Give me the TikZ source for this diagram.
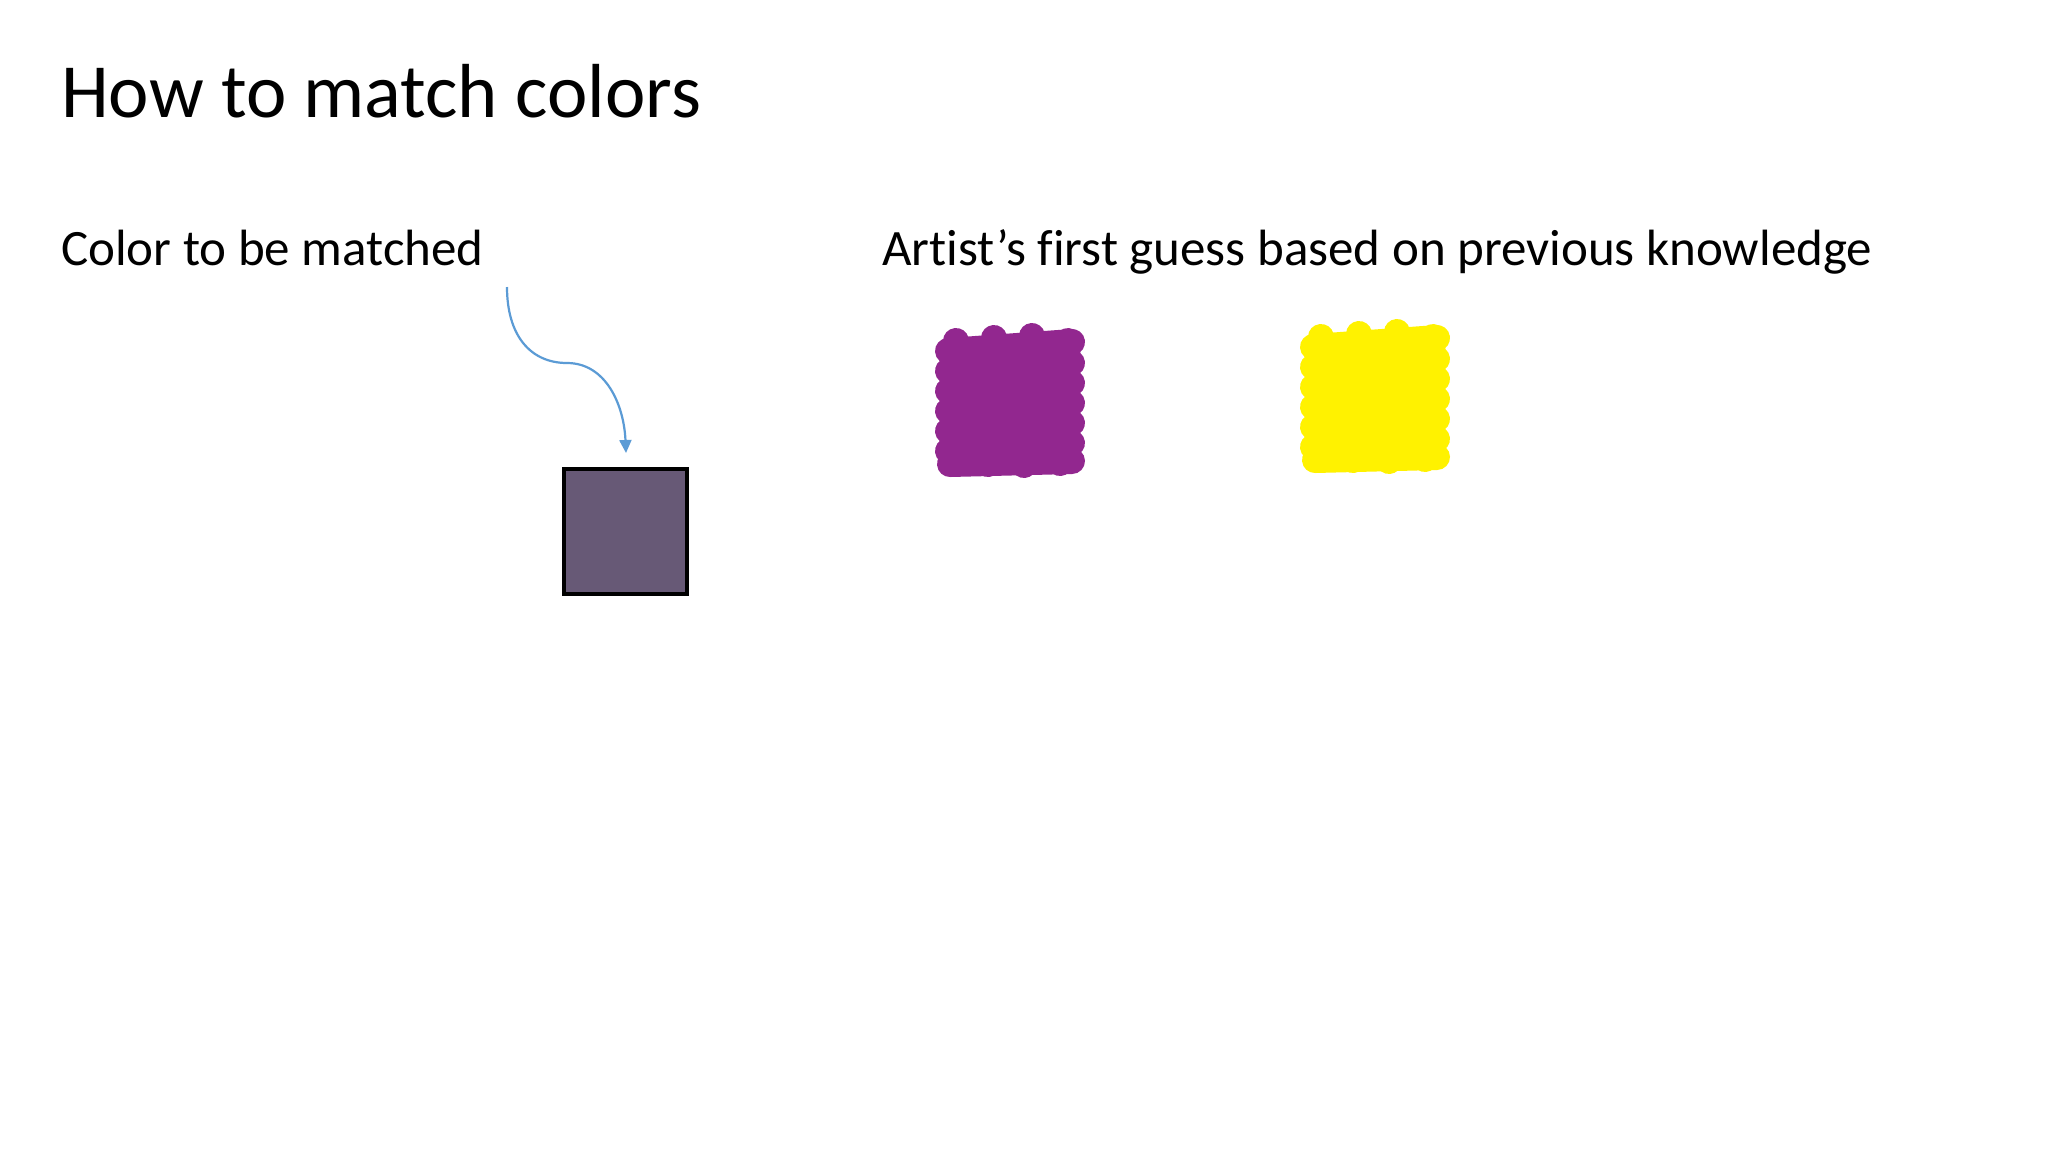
\documentclass[tikz,border=0pt]{standalone}
\usepackage{fontspec}
\setmainfont{Carlito}[Ligatures=NoCommon]
\usetikzlibrary{arrows.meta}
\definecolor{arrowblue}{RGB}{91,155,213}
\definecolor{targetcol}{RGB}{103,89,118}
\definecolor{scribpurple}{RGB}{146,39,143}
\definecolor{scribyellow}{RGB}{255,242,0}
\tikzset{
  titletext/.style={anchor=base west,inner sep=0pt,font=\fontsize{76.6}{92}\selectfont},
  bodytext/.style={anchor=base west,inner sep=0pt,font=\fontsize{51}{61}\selectfont},
  swatch/.style={draw=black,line width=4pt,fill=targetcol,minimum width=123pt,minimum height=125pt,inner sep=0pt},
  connector/.style={draw=arrowblue,line width=2.2pt,-{Triangle[length=13pt,width=12pt]}},
  scribstroke/.style={line width=26pt,line cap=round,line join=round}
}
\newcommand\drawscribble[3]{%
  \begin{scope}[shift={(#1,#2)}]
    \fill[#3] (0,0) rectangle (124,125);
    \draw[#3,scribstroke] (0,12) -- (124,3) -- (0,32) -- (124,24) -- (0,52) -- (124,44)
      -- (0,72) -- (124,64) -- (0,92) -- (124,84) -- (0,112) -- (124,104) -- (2,125) -- (124,122);
    \draw[#3,scribstroke] (4,125) -- (8,2) -- (40,125) -- (46,-1) -- (76,126) -- (84,-3) -- (112,124) -- (120,2);
  \end{scope}}
\begin{document}
\begin{tikzpicture}[x=1pt,y=-1pt]
\useasboundingbox (0,0) rectangle (2048,1152);
\fill[white] (0,0) rectangle (2048,1152);
\node[titletext] (title) at (61,117) {How to match colors};
\node[bodytext] (lefttext) at (61,265) {Color to be matched};
\node[bodytext] (righttext) at (882,265) {Artist’s first guess based on previous knowledge};
\node[swatch] (square) at (625.5,531.5) {};
\coordinate (arrowstart) at (507,287);
\coordinate (arrowend) at (626,453);
\draw[connector] (arrowstart) .. controls (507,335) and (530,363) .. (567,363)
  .. controls (606,363) and (624,405) .. (arrowend);
\drawscribble{948}{339}{scribpurple}
\drawscribble{1313}{335}{scribyellow}
\end{tikzpicture}
\end{document}
